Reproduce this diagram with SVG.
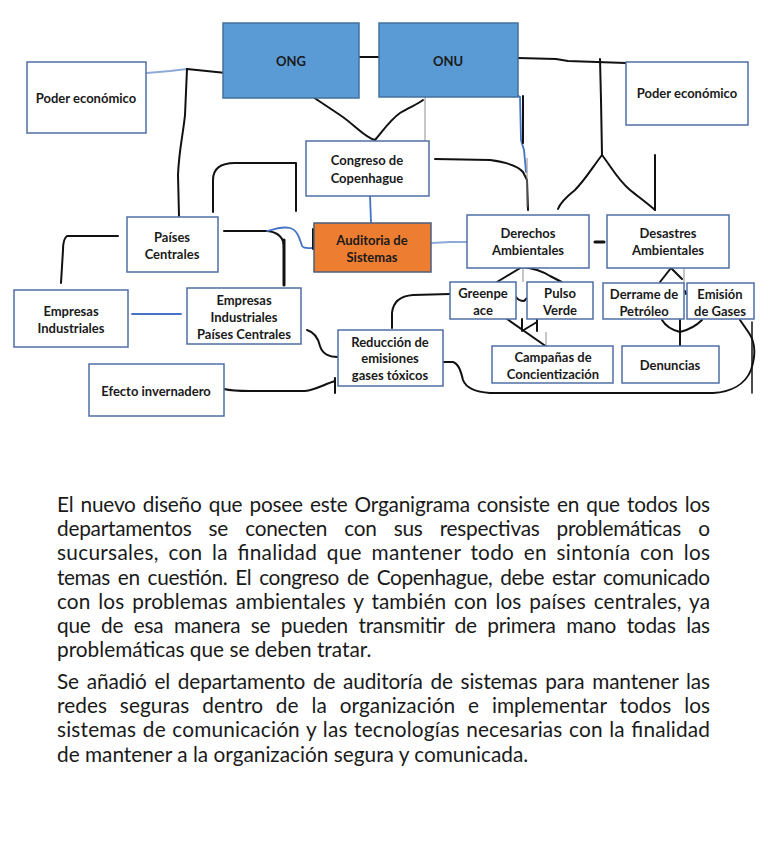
<svg xmlns="http://www.w3.org/2000/svg" width="768" height="866" viewBox="0 0 768 866">
<style>
.box{fill:#ffffff;stroke:#4f6fa6;stroke-width:1.5}
.blue{fill:#5b9bd5;stroke:#41719c;stroke-width:1.5}
.orange{fill:#ed7d31;stroke:#4a5f80;stroke-width:1.5}
.lbl{font-family:Lato,"Liberation Sans",sans-serif;font-weight:bold;font-size:13px;fill:#1a1a1a;text-anchor:middle}
.k{fill:none;stroke:#111111;stroke-width:2;stroke-linecap:round;stroke-linejoin:round}
.kb{fill:none;stroke:#111111;stroke-width:3;stroke-linecap:round}
.b{fill:none;stroke:#4472c4;stroke-width:1.8;stroke-linecap:round}
.lb{fill:none;stroke:#8eaad6;stroke-width:1.8;stroke-linecap:round}
.g{fill:none;stroke:#8c8c8c;stroke-width:1}
.p{font-family:Lato,"Liberation Sans",sans-serif;font-size:20.8px;fill:#1a1a1a}
</style>
<rect width="768" height="866" fill="#ffffff"/>
<g id="connectors">
<path class="lb" d="M147,73 L170,71 L187,69"/>
<path class="k" d="M187,69 L226,73"/>
<path class="k" d="M187,69 L185,115 C183,135 179,150 178,175 L179,216"/>
<path class="k" d="M359,57 L379,57"/>
<path class="k" d="M313,97 L340,115 C355,125 365,138 375,140 C382,132 390,120 400,113 C410,107 418,104 423,100"/>
<path class="g" d="M425,97 L425,141"/>
<path class="k" d="M518,58 L556,59 L568,61 L626,63"/>
<path class="k" d="M600,59 L601,100 L602,155"/>
<path class="k" d="M602,155 C592,168 585,180 575,190 C565,198 560,203 558,209"/>
<path class="k" d="M602,155 C612,168 618,180 630,190 C640,198 648,204 655,210"/>
<path class="k" d="M655,155 L655,210"/>
<path class="b" d="M517,95 L520,97 L521,140 L524,150 L526,172"/>
<path class="k" d="M523,96 L523,143"/>
<path class="k" d="M435,159 L490,160 C505,162 518,166 523,172 L527,180 L528,210"/>
<path class="g" d="M527,158 L527,207"/>
<path class="b" d="M370,196 L371,222"/>
<path class="k" d="M213,212 L213,180 C213,168 222,163 235,163 L296,163 L296,211"/>
<path class="k" d="M118,236 L67,236 C64,238 63,242 63,250 L61,283"/>
<path class="k" d="M224,231 L267,231 C278,232 284,238 284,248"/>
<path class="kb" d="M284,240 L284,285"/>
<path class="b" d="M267,231 C275,229 282,226 290,228 C298,230 300,240 302,246 C304,249 308,248 313,248"/>
<path class="k" d="M313,229 L313,249"/>
<path class="lb" d="M432,243 L450,242 L467,242"/>
<path class="kb" d="M595,242 L604,242"/>
<path class="b" d="M132,314 L181,314"/>
<path class="k" d="M307,330 C314,332 318,338 320,346 C322,353 328,357 338,357"/>
<path class="k" d="M224,389 C232,391 240,391 250,391 L305,391 C315,390 325,384 335,381"/>
<path class="k" d="M335,378 L335,393"/>
<path class="k" d="M392,328 L392,313 C393,302 400,296 413,295 L450,294"/>
<path class="k" d="M443,362 L453,362 C459,364 461,372 463,380 C466,388 475,392 490,393 L713,393 C730,392 745,385 751,370 C756,355 755,342 749,333 L740,320"/>
<path class="k" style="stroke-width:1.5" d="M752,322 L752,393"/>
<path class="k" d="M497,282 L522,267 C532,268 542,271 550,276 C556,279 560,281 563,283"/>
<path class="g" d="M523,267 L523,282"/>
<path class="k" d="M516,297 C518,300 520,301 524,301 L527,298"/>
<path class="k" d="M507,319 L547,347"/>
<path class="k" d="M522,319 L522,331 L537,322"/>
<path class="k" d="M537,319 L537,331"/>
<path class="g" d="M546,332 L546,347"/>
<path class="k" d="M660,282 L671,268 L682,279"/>
<path class="g" d="M684,268 L684,283"/>
<path class="k" d="M685,291 L686,294"/>
<path class="k" d="M662,320 C665,325 672,330 680,332 C688,330 696,326 702,320"/>
<path class="k" d="M680,320 L680,347"/>
</g>
<g id="ong"><rect class="blue" x="223" y="23" width="136" height="75"/><text class="lbl" x="291" y="65.5">ONG</text></g>
<g id="onu"><rect class="blue" x="379" y="23" width="139" height="74"/><text class="lbl" x="448" y="65.5">ONU</text></g>
<g id="poder-economico-izq"><rect class="box" x="27" y="62" width="119" height="71"/><text class="lbl" x="86" y="102.5">Poder económico</text></g>
<g id="poder-economico-der"><rect class="box" x="626" y="62" width="122" height="63"/><text class="lbl" x="687" y="97.5">Poder económico</text></g>
<g id="congreso"><rect class="box" x="306" y="141" width="123" height="55"/><text class="lbl" x="367" y="164.5">Congreso de</text><text class="lbl" x="367" y="182.5">Copenhague</text></g>
<g id="paises-centrales"><rect class="box" x="127" y="217" width="91" height="55"/><text class="lbl" x="172" y="241.5">Países</text><text class="lbl" x="172" y="258.5">Centrales</text></g>
<g id="auditoria"><rect class="orange" x="314" y="223" width="117" height="49"/><text class="lbl" x="372" y="245">Auditoria de</text><text class="lbl" x="372" y="262">Sistemas</text></g>
<g id="derechos"><rect class="box" x="467" y="215" width="122" height="53"/><text class="lbl" x="528" y="237.5">Derechos</text><text class="lbl" x="528" y="254.5">Ambientales</text></g>
<g id="desastres"><rect class="box" x="607" y="215" width="122" height="53"/><text class="lbl" x="668" y="237.5">Desastres</text><text class="lbl" x="668" y="254.5">Ambientales</text></g>
<g id="empresas-industriales"><rect class="box" x="14" y="290" width="114" height="57"/><text class="lbl" x="71" y="315.5">Empresas</text><text class="lbl" x="71" y="332.5">Industriales</text></g>
<g id="empresas-paises-centrales"><rect class="box" x="187" y="288" width="114" height="56"/><text class="lbl" x="244" y="304.5">Empresas</text><text class="lbl" x="244" y="321.5">Industriales</text><text class="lbl" x="244" y="338.5">Países Centrales</text></g>
<g id="greenpeace"><rect class="box" x="450" y="282" width="66" height="37"/><text class="lbl" x="483" y="297.5">Greenpe</text><text class="lbl" x="483" y="314.5">ace</text></g>
<g id="pulso-verde"><rect class="box" x="527" y="282" width="66" height="37"/><text class="lbl" x="560" y="297.5">Pulso</text><text class="lbl" x="560" y="314.5">Verde</text></g>
<g id="derrame"><rect class="box" x="603" y="283" width="81" height="36"/><text class="lbl" x="644" y="298.5">Derrame de</text><text class="lbl" x="644" y="315.5">Petróleo</text></g>
<g id="emision"><rect class="box" x="687" y="283" width="67" height="36"/><text class="lbl" x="720" y="298.5">Emisión</text><text class="lbl" x="720" y="315.5">de Gases</text></g>
<g id="reduccion"><rect class="box" x="338" y="330" width="105" height="56"/><text class="lbl" x="390" y="346.5">Reducción de</text><text class="lbl" x="390" y="362.5">emisiones</text><text class="lbl" x="390" y="379.5">gases tóxicos</text></g>
<g id="campanas"><rect class="box" x="492" y="346" width="121" height="37"/><text class="lbl" x="553" y="361.5">Campañas de</text><text class="lbl" x="553" y="378.5">Concientización</text></g>
<g id="denuncias"><rect class="box" x="622" y="346" width="97" height="37"/><text class="lbl" x="670" y="369.5">Denuncias</text></g>
<g id="efecto-invernadero"><rect class="box" x="89" y="364" width="135" height="52"/><text class="lbl" x="156" y="395.5">Efecto invernadero</text></g>
<g id="texto">
<text class="p" x="57" y="512" textLength="653" lengthAdjust="spacing" word-spacing="2">El nuevo diseño que posee este Organigrama consiste en que todos los</text>
<text class="p" x="57" y="536.2" textLength="653" lengthAdjust="spacing" word-spacing="12">departamentos se conecten con sus respectivas problemáticas o</text>
<text class="p" x="57" y="560.4" textLength="653" lengthAdjust="spacing" word-spacing="4">sucursales, con la finalidad que mantener todo en sintonía con los</text>
<text class="p" x="57" y="584.6" textLength="653" lengthAdjust="spacing" word-spacing="3">temas en cuestión. El congreso de Copenhague, debe estar comunicado</text>
<text class="p" x="57" y="608.8" textLength="653" lengthAdjust="spacing" word-spacing="2.5">con los problemas ambientales y también con los países centrales, ya</text>
<text class="p" x="57" y="633" textLength="653" lengthAdjust="spacing" word-spacing="5.5">que de esa manera se pueden transmitir de primera mano todas las</text>
<text class="p" x="57" y="657.2">problemáticas que se deben tratar.</text>
<text class="p" x="57" y="689" textLength="653" lengthAdjust="spacing" word-spacing="2.5">Se añadió el departamento de auditoría de sistemas para mantener las</text>
<text class="p" x="57" y="713.2" textLength="653" lengthAdjust="spacing" word-spacing="7.5">redes seguras dentro de la organización e implementar todos los</text>
<text class="p" x="57" y="737.4" textLength="653" lengthAdjust="spacing" word-spacing="1">sistemas de comunicación y las tecnologías necesarias con la finalidad</text>
<text class="p" x="57" y="761.6">de mantener a la organización segura y comunicada.</text>
</g>
</svg>
